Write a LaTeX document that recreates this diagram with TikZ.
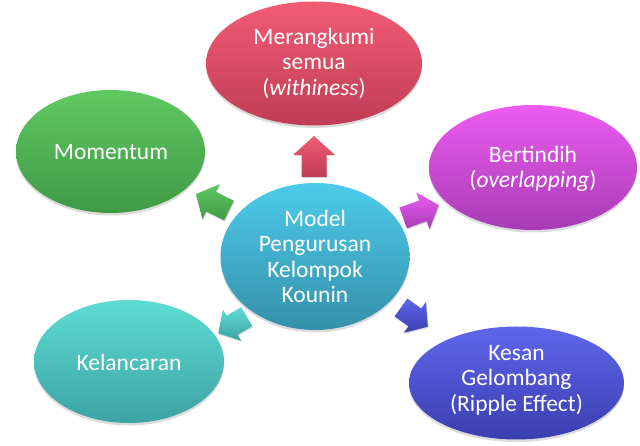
\documentclass[tikz,border=0pt]{standalone}
\usepackage{fontspec}
\setmainfont{Carlito}
\usetikzlibrary{shapes.geometric,shadows}
\definecolor{redT}{HTML}{F25C74}\definecolor{redB}{HTML}{C03C55}
\definecolor{greenT}{HTML}{60C862}\definecolor{greenB}{HTML}{3F9A44}
\definecolor{purpleT}{HTML}{EC5CF0}\definecolor{purpleB}{HTML}{A73BB5}
\definecolor{cyanT}{HTML}{4DCBEA}\definecolor{cyanB}{HTML}{3590AA}
\definecolor{tealT}{HTML}{5EDCD4}\definecolor{tealB}{HTML}{3CA3A3}
\definecolor{blueT}{HTML}{5E66EC}\definecolor{blueB}{HTML}{3A3EAE}
\newcommand{\blockarrow}[7]{%
  \begin{scope}[shift={(#1)}, rotate=#2]
    \path[#7, drop shadow={shadow xshift=0.8pt, shadow yshift=-1.2pt, opacity=0.3}]
      (-#3/2,-#4) -- (#3/2-#6,-#4) -- (#3/2-#6,-#5) -- (#3/2,0)
      -- (#3/2-#6,#5) -- (#3/2-#6,#4) -- (-#3/2,#4) -- cycle;
  \end{scope}}
\tikzset{
  ell/.style={ellipse, draw=none, inner sep=0pt, drop shadow={shadow xshift=0pt, shadow yshift=-2.5pt, opacity=0.28}},
  txt/.style={text=white, align=center, font=\fontsize{23.5}{25.5}\selectfont, inner sep=0pt},
  redfill/.style={top color=redT, bottom color=redB},
  greenfill/.style={top color=greenT, bottom color=greenB},
  purplefill/.style={top color=purpleT, bottom color=purpleB},
  cyanfill/.style={top color=cyanT, bottom color=cyanB},
  tealfill/.style={top color=tealT, bottom color=tealB},
  bluefill/.style={top color=blueT, bottom color=blueB},
}
\begin{document}
\begin{tikzpicture}[x=1pt,y=1pt]
\useasboundingbox[fill=white] (0,0) rectangle (640,446);
% ellipses
\node[ell, redfill, minimum width=216pt, minimum height=124pt] (red) at (314,382.5) {};
\node[ell, greenfill, minimum width=189pt, minimum height=123pt] (green) at (110.5,294.5) {};
\node[ell, purplefill, minimum width=208pt, minimum height=125pt] (purple) at (533,278.5) {};
\node[ell, cyanfill, minimum width=189pt, minimum height=147pt] (center) at (315,189.5) {};
\node[ell, tealfill, minimum width=190pt, minimum height=123pt] (teal) at (129,84.5) {};
\node[ell, bluefill, minimum width=215pt, minimum height=113pt] (blue) at (516.5,63) {};
% texts
\node[txt] (red-t) at (314,383) {Merangkumi\\semua\\(\textit{withiness})};
\node[txt] (green-t) at (111,294) {Momentum};
\node[txt] (purple-t) at (533,277) {Bertindih\\(\textit{overlapping})};
\node[txt] (center-t) at (315,189.5) {Model\\Pengurusan\\Kelompok\\Kounin};
\node[txt] (teal-t) at (129,84) {Kelancaran};
\node[txt] (blue-t) at (516.5,66) {Kesan\\Gelombang\\(Ripple Effect)};
% arrows
\coordinate (a-red) at (314,289.5);
\coordinate (a-green) at (212.4,243.7);
\coordinate (a-purple) at (421,234.5);
\coordinate (a-teal) at (232.5,121);
\coordinate (a-blue) at (414.4,128.9);
\blockarrow{a-red}{90}{41}{12.5}{21}{19}{redfill}
\blockarrow{a-green}{153.6}{37}{11}{19.5}{17}{greenfill}
\blockarrow{a-purple}{19.9}{38}{11}{19.5}{17}{purplefill}
\blockarrow{a-teal}{210.3}{33}{11}{18}{16}{tealfill}
\blockarrow{a-blue}{-35.7}{33}{11}{19}{16}{bluefill}
\end{tikzpicture}
\end{document}
